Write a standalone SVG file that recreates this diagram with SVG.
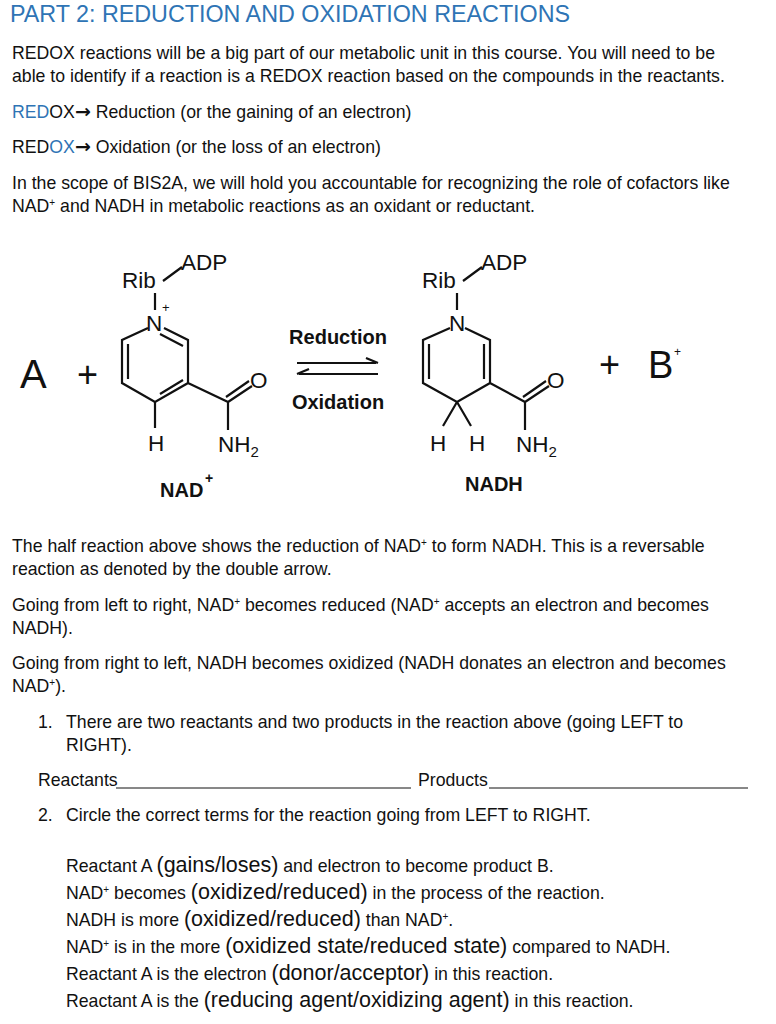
<svg xmlns="http://www.w3.org/2000/svg" width="776" height="1024" viewBox="0 0 776 1024">
<style>
text{font-family:"Liberation Sans",Arial,sans-serif;fill:#111}
.b{font-size:17.7px}
.t{font-size:23.3px;fill:#2e74b5}
.bl{fill:#2e74b5}
.ar{font-family:"DejaVu Sans",sans-serif;font-weight:bold;font-size:19px}
.big{font-size:21.5px}
.c{font-size:22.5px}
.cl{font-size:20px;font-weight:bold}
.l{stroke:#111;stroke-width:2.2;fill:none}
</style>
<rect width="776" height="1024" fill="#fff"/>
<text class="t" x="10" y="22">PART 2: REDUCTION AND OXIDATION REACTIONS</text>
<text class="b" x="12" y="59">REDOX reactions will be a big part of our metabolic unit in this course. You will need to be</text>
<text class="b" x="12" y="82">able to identify if a reaction is a REDOX reaction based on the compounds in the reactants.</text>
<text class="b" x="12" y="118"><tspan class="bl">RED</tspan>OX<tspan class="ar">→</tspan> Reduction (or the gaining of an electron)</text>
<text class="b" x="12" y="153">RED<tspan class="bl">OX</tspan><tspan class="ar">→</tspan> Oxidation (or the loss of an electron)</text>
<text class="b" x="12" y="189">In the scope of BIS2A, we will hold you accountable for recognizing the role of cofactors like</text>
<text class="b" x="12" y="212">NAD<tspan font-size="10" dy="-6">+</tspan><tspan dy="6"> and NADH in metabolic reactions as an oxidant or reductant.</tspan></text>

<g id="nad">
<text x="20" y="388" font-size="40">A</text>
<text x="77" y="387" font-size="36">+</text>
<text class="c" x="122" y="288">Rib</text>
<text class="c" x="181" y="270">ADP</text>
<path class="l" d="M163 281 L182 267 M155 293 V310"/>
<text class="c" x="146" y="331">N</text>
<text x="162" y="312" font-size="13">+</text>
<path class="l" d="M148 328 L122 340 V383 L155 402 L188 383 V340 L164 328 M128 344 V379 M160 394 L183 380 M160 334 L183 346 M188 383 L228 402 V430 M228 402 L252 386 M226 397 L249 381"/>
<text class="c" x="250" y="388">O</text>
<path class="l" d="M155 402 V428"/>
<text class="c" x="148" y="451">H</text>
<text class="c" x="218" y="452">NH<tspan font-size="15" dy="5">2</tspan></text>
<text class="cl" x="160" y="497" font-size="21">NAD</text><text x="205" y="483" font-size="14" font-weight="bold">+</text>
</g>

<g id="arrows">
<text class="cl" x="338" y="344" text-anchor="middle">Reduction</text>
<text class="cl" x="338" y="409" text-anchor="middle">Oxidation</text>
<path class="l" d="M297 363 H376 M366 358 L378 363" stroke-width="2"/>
<path class="l" d="M378 374 H299 M309 369 L297 374" stroke-width="2"/>
</g>

<g id="nadh">
<text class="c" x="422" y="288">Rib</text>
<text class="c" x="481" y="270">ADP</text>
<path class="l" d="M463 281 L482 267 M457 293 V310"/>
<text class="c" x="449" y="331">N</text>
<path class="l" d="M450 328 L423 340 V383 L457 402 L490 383 V340 L465 328 M429 344 V379 M484 344 V379 M490 383 L525 402 V430 M525 402 L549 386 M523 397 L546 381 M457 402 L443 426 M457 402 L471 426"/>
<text class="c" x="547" y="388">O</text>
<text class="c" x="430" y="451">H</text>
<text class="c" x="469" y="451">H</text>
<text class="c" x="516" y="452">NH<tspan font-size="15" dy="5">2</tspan></text>
<text class="cl" x="465" y="491" font-size="21">NADH</text>
<text x="599" y="377" font-size="36">+</text>
<text x="648" y="378" font-size="38">B</text><text x="674" y="356" font-size="12">+</text>
</g>

<text class="b" x="12" y="552">The half reaction above shows the reduction of NAD<tspan font-size="10" dy="-6">+</tspan><tspan dy="6"> to form NADH. This is a reversable</tspan></text>
<text class="b" x="12" y="575">reaction as denoted by the double arrow.</text>
<text class="b" x="12" y="611">Going from left to right, NAD<tspan font-size="10" dy="-6">+</tspan><tspan dy="6"> becomes reduced (NAD</tspan><tspan font-size="10" dy="-6">+</tspan><tspan dy="6"> accepts an electron and becomes</tspan></text>
<text class="b" x="12" y="634">NADH).</text>
<text class="b" x="12" y="669">Going from right to left, NADH becomes oxidized (NADH donates an electron and becomes</text>
<text class="b" x="12" y="692">NAD<tspan font-size="10" dy="-6">+</tspan><tspan dy="6">).</tspan></text>
<text class="b" x="38" y="728">1.</text>
<text class="b" x="66" y="728">There are two reactants and two products in the reaction above (going LEFT to</text>
<text class="b" x="66" y="751">RIGHT).</text>
<text class="b" x="38" y="786">Reactants</text>
<line x1="116" y1="788" x2="411" y2="788" stroke="#111" stroke-width="1"/>
<text class="b" x="418" y="786">Products</text>
<line x1="489" y1="788" x2="748" y2="788" stroke="#111" stroke-width="1"/>
<text class="b" x="38" y="821">2.</text>
<text class="b" x="66" y="821">Circle the correct terms for the reaction going from LEFT to RIGHT.</text>
<text class="b" x="66" y="872">Reactant A <tspan class="big">(gains/loses)</tspan> and electron to become product B.</text>
<text class="b" x="66" y="899">NAD<tspan font-size="10" dy="-6">+</tspan><tspan dy="6"> becomes </tspan><tspan class="big">(oxidized/reduced)</tspan> in the process of the reaction.</text>
<text class="b" x="66" y="926">NADH is more <tspan class="big">(oxidized/reduced)</tspan> than NAD<tspan font-size="10" dy="-6">+</tspan><tspan dy="6">.</tspan></text>
<text class="b" x="66" y="953">NAD<tspan font-size="10" dy="-6">+</tspan><tspan dy="6"> is in the more </tspan><tspan class="big">(oxidized state/reduced state)</tspan> compared to NADH.</text>
<text class="b" x="66" y="980">Reactant A is the electron <tspan class="big">(donor/acceptor)</tspan> in this reaction.</text>
<text class="b" x="66" y="1007">Reactant A is the <tspan class="big">(reducing agent/oxidizing agent)</tspan> in this reaction.</text>
</svg>
